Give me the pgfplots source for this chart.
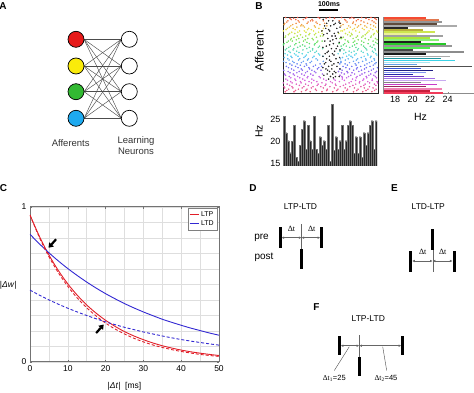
\documentclass[border=0pt]{standalone}
\usepackage{pgfplots}
\pgfplotsset{compat=1.18}
\usepackage{fontspec}
\setmainfont{Liberation Sans}
\newfontfamily\serifd{Liberation Serif}
\usetikzlibrary{arrows.meta}
\newcommand{\fs}[1]{\fontsize{#1}{#1}\selectfont}
\definecolor{cA1}{RGB}{230,25,25}
\definecolor{cA2}{RGB}{250,235,10}
\definecolor{cA3}{RGB}{50,185,50}
\definecolor{cA4}{RGB}{30,170,240}
\definecolor{ltp}{RGB}{225,30,40}
\definecolor{ltd}{RGB}{50,40,210}
% right histogram colours (1 = bottom, 38 = top)
\definecolor{h38}{RGB}{245,75,50}
\definecolor{h37}{RGB}{225,120,80}
\definecolor{h36}{RGB}{150,150,150}
\definecolor{h35}{RGB}{95,75,60}
\definecolor{h34}{RGB}{170,170,170}
\definecolor{h33}{RGB}{40,40,40}
\definecolor{h32}{RGB}{185,175,60}
\definecolor{h31}{RGB}{205,230,80}
\definecolor{h30}{RGB}{235,240,150}
\definecolor{h29}{RGB}{160,160,160}
\definecolor{h28}{RGB}{170,230,60}
\definecolor{h27}{RGB}{140,240,120}
\definecolor{h26}{RGB}{30,30,30}
\definecolor{h25}{RGB}{40,200,40}
\definecolor{h24}{RGB}{150,150,150}
\definecolor{h23}{RGB}{80,240,80}
\definecolor{h22}{RGB}{70,70,70}
\definecolor{h21}{RGB}{140,140,140}
\definecolor{h20}{RGB}{25,25,25}
\definecolor{h19}{RGB}{170,170,170}
\definecolor{h18}{RGB}{30,150,160}
\definecolor{h17}{RGB}{60,210,230}
\definecolor{h16}{RGB}{170,230,240}
\definecolor{h15}{RGB}{100,160,230}
\definecolor{h14}{RGB}{80,80,80}
\definecolor{h13}{RGB}{60,90,220}
\definecolor{h12}{RGB}{30,30,130}
\definecolor{h11}{RGB}{130,150,240}
\definecolor{h10}{RGB}{40,40,170}
\definecolor{h9}{RGB}{120,60,200}
\definecolor{h8}{RGB}{160,110,230}
\definecolor{h7}{RGB}{200,170,240}
\definecolor{h6}{RGB}{130,130,130}
\definecolor{h5}{RGB}{200,60,200}
\definecolor{h4}{RGB}{150,40,90}
\definecolor{h3}{RGB}{240,130,180}
\definecolor{h2}{RGB}{200,30,60}
\definecolor{h1}{RGB}{240,60,90}
\begin{document}
\begin{tikzpicture}
\path[use as bounding box] (0pt,0pt) rectangle (474pt,-393pt);
\begin{scope}[x=1pt,y=-1pt,every node/.style={inner sep=0pt}]
% panel letters
\node[font=\bfseries\fs{10}] at (3,6.5) {A};
\node[font=\bfseries\fs{10}] at (259,6) {B};
\node[font=\bfseries\fs{10}] at (3.5,188) {C};
\node[font=\bfseries\fs{10}] at (253,188) {D};
\node[font=\bfseries\fs{10}] at (394.5,188) {E};
\node[font=\bfseries\fs{10}] at (316.5,307) {F};
% ---- panel A ----
\foreach \ya in {39.3,66,91.7,118.3}
  \foreach \yb in {39.3,66,91.7,118.3}
    \draw[black!70, line width=0.45pt] (84,\ya) -- (121.3,\yb);
\draw[fill=cA1, line width=0.7pt] (76,39.3) circle[radius=8];
\draw[fill=cA2, line width=0.7pt] (76,66) circle[radius=8];
\draw[fill=cA3, line width=0.7pt] (76,91.7) circle[radius=8];
\draw[fill=cA4, line width=0.7pt] (76,118.3) circle[radius=8];
\foreach \yb in {39.3,66,91.7,118.3}
  \draw[fill=white, line width=0.7pt] (129.3,\yb) circle[radius=8];
\node[font=\fs{9.5}, text=black!80] at (70.7,142.7) {Afferents};
\node[font=\fs{9.5}, text=black!80, align=center] at (136,145.5) {Learning\\[1pt]Neurons};
% ---- panel B labels ----
\node[font=\bfseries\fs{7}] at (329,4) {100ms};
\draw[line width=2.5pt] (319,10) -- (338,10);
\node[font=\fs{12}, rotate=90] at (259.3,51) {Afferent};
\node[font=\fs{10.5}] at (420.5,117) {Hz};
\node[font=\fs{10.5}, rotate=90] at (259,131.5) {Hz};
% ---- panel D ----
\node[font=\fs{8.5}] at (300.5,206.7) {LTP-LTD};
\node[font=\fs{10}] at (261.5,238) {pre};
\node[font=\fs{10}] at (264,257) {post};
\draw[black!60, line width=0.4pt] (301.5,224) -- (301.5,249);
\fill (278.5,226.7) rectangle (281.5,247.7);
\fill (320.2,226.7) rectangle (323.2,247.7);
\fill (300,249) rectangle (303,269.3);
\draw[black!60, line width=0.5pt, {Latex[length=2.6pt,width=2.6pt]}-{Latex[length=2.6pt,width=2.6pt]}] (281.5,237.7) -- (301.5,237.7);
\draw[black!60, line width=0.5pt, {Latex[length=2.6pt,width=2.6pt]}-{Latex[length=2.6pt,width=2.6pt]}] (301.5,237.7) -- (320.2,237.7);
\node[font=\serifd\fs{8}] at (291.5,229) {Δt};
\node[font=\serifd\fs{8}] at (311.7,229) {Δt};
% ---- panel E ----
\node[font=\fs{8.5}] at (428.3,206.7) {LTD-LTP};
\draw[black!60, line width=0.4pt] (432.7,249) -- (432.7,272);
\fill (431.2,229.3) rectangle (434.2,250);
\fill (409.2,251) rectangle (412.2,271.7);
\fill (452.5,251) rectangle (455.5,271.7);
\draw[black!60, line width=0.5pt, {Latex[length=2.6pt,width=2.6pt]}-{Latex[length=2.6pt,width=2.6pt]}] (412.2,261) -- (432.7,261);
\draw[black!60, line width=0.5pt, {Latex[length=2.6pt,width=2.6pt]}-{Latex[length=2.6pt,width=2.6pt]}] (432.7,261) -- (452.5,261);
\node[font=\serifd\fs{8}] at (422.7,252) {Δt};
\node[font=\serifd\fs{8}] at (442.7,252) {Δt};
% ---- panel F ----
\node[font=\fs{8.5}] at (368.3,318.3) {LTP-LTD};
\draw[black!60, line width=0.4pt] (359.3,335) -- (359.3,357);
\fill (337.8,336) rectangle (340.8,355);
\fill (401.2,336) rectangle (404.2,355);
\fill (357.8,356.7) rectangle (360.8,376);
\draw[black!60, line width=0.5pt, {Latex[length=2.6pt,width=2.6pt]}-{Latex[length=2.6pt,width=2.6pt]}] (340.8,345.7) -- (359.3,345.7);
\draw[black!60, line width=0.5pt, {Latex[length=2.6pt,width=2.6pt]}-{Latex[length=2.6pt,width=2.6pt]}] (359.3,345.7) -- (401.2,345.7);
\draw[black!70, line width=0.4pt] (334.3,370.5) -- (349.3,346.7);
\draw[black!70, line width=0.4pt] (386.7,370.5) -- (382.7,346.7);
\node[font=\fs{7.5}] at (334.3,378) {{\serifd Δt\textsubscript{1}}=25};
\node[font=\fs{7.5}] at (386,378) {{\serifd Δt\textsubscript{2}}=45};
\end{scope}

% ---- panel B raster ----
\begin{axis}[at={(283pt,-93pt)}, anchor=south west, scale only axis,
  width=95pt, height=76pt, xmin=0, xmax=500, ymin=0.5, ymax=30.5,
  xtick=\empty, ytick=\empty, axis line style={line width=0.9pt, black!85},
  colormap={aff}{rgb255=(240,90,130) rgb255=(215,100,230) rgb255=(110,110,245) rgb255=(90,215,240) rgb255=(100,225,100) rgb255=(235,230,70) rgb255=(245,90,70)},
  point meta min=1, point meta max=30]
\addplot[scatter, only marks, mark=*, mark size=0.55pt, point meta=y,
  scatter/use mapped color={draw=mapped color, fill=mapped color}] coordinates {
(12,1)(58,1)(97,1)(143,1)(205,1)(262,1)(318,1)(371,1)(420,1)(468,1)
(30,2)(81,2)(126,2)(171,2)(233,2)(289,2)(340,2)(395,2)(447,2)(490,2)
(5,3)(47,3)(110,3)(158,3)(199,3)(247,3)(301,3)(352,3)(410,3)(455,3)
(22,4)(70,4)(119,4)(185,4)(226,4)(276,4)(330,4)(383,4)(432,4)(481,4)
(40,5)(92,5)(137,5)(178,5)(250,5)(297,5)(359,5)(404,5)(446,5)(495,5)
(15,6)(63,6)(104,6)(152,6)(214,6)(268,6)(312,6)(366,6)(425,6)(470,6)
(33,7)(77,7)(131,7)(190,7)(310,7)(345,7)(390,7)(438,7)(486,7)
(8,8)(54,8)(99,8)(146,8)(207,8)(322,8)(377,8)(416,8)(462,8)
(27,9)(85,9)(128,9)(166,9)(292,9)(337,9)(399,9)(451,9)(492,9)
(45,10)(96,10)(140,10)(181,10)(299,10)(350,10)(387,10)(429,10)(476,10)
(18,11)(66,11)(113,11)(160,11)(203,11)(316,11)(362,11)(409,11)(458,11)
(36,12)(74,12)(122,12)(195,12)(299,12)(327,12)(380,12)(442,12)(484,12)
(3,13)(51,13)(107,13)(150,13)(212,13)(305,13)(371,13)(419,13)(467,13)
(25,14)(88,14)(134,14)(174,14)(302,14)(343,14)(393,14)(435,14)(479,14)
(42,15)(79,15)(117,15)(163,15)(211,15)(335,15)(358,15)(427,15)(463,15)
(11,16)(60,16)(101,16)(187,16)(290,16)(319,16)(385,16)(444,16)(489,16)
(31,17)(72,17)(144,17)(176,17)(300,17)(348,17)(374,17)(412,17)(471,17)
(19,18)(57,18)(125,18)(156,18)(209,18)(310,18)(397,18)(436,18)(483,18)
(38,19)(90,19)(115,19)(192,19)(306,19)(333,19)(365,19)(424,19)(459,19)
(6,20)(68,20)(139,20)(169,20)(295,20)(325,20)(389,20)(448,20)(496,20)
(28,21)(49,21)(108,21)(183,21)(206,21)(341,21)(378,21)(414,21)(474,21)
(44,22)(83,22)(130,22)(154,22)(300,22)(308,22)(369,22)(433,22)(487,22)
(14,23)(75,23)(120,23)(197,23)(210,23)(354,23)(392,23)(421,23)(465,23)
(34,24)(62,24)(141,24)(172,24)(206,24)(293,24)(329,24)(360,24)(440,24)(480,24)
(2,25)(87,25)(112,25)(161,25)(205,25)(305,25)(314,25)(383,25)(453,25)(493,25)
(23,26)(53,26)(135,26)(189,26)(213,26)(338,26)(376,26)(418,26)(461,26)
(41,27)(94,27)(106,27)(165,27)(231,27)(305,27)(346,27)(398,27)(431,27)(477,27)
(9,28)(69,28)(127,28)(180,28)(219,28)(303,28)(367,28)(445,28)(488,28)
(26,29)(80,29)(145,29)(157,29)(212,29)(296,29)(331,29)(386,29)(411,29)(469,29)
(37,30)(56,30)(118,30)(193,30)(227,30)(271,30)(352,30)(373,30)(437,30)(484,30)
(20,1.5)(66,1.5)(120,1.5)(176,1.5)(230,1.5)(283,1.5)(336,1.5)(388,1.5)(437,1.5)(482,1.5)
(9,2.5)(52,2.5)(101,2.5)(149,2.5)(212,2.5)(270,2.5)(327,2.5)(376,2.5)(428,2.5)(474,2.5)
(35,3.5)(86,3.5)(133,3.5)(180,3.5)(222,3.5)(279,3.5)(318,3.5)(368,3.5)(425,3.5)(489,3.5)
(2,4.5)(48,4.5)(95,4.5)(150,4.5)(205,4.5)(259,4.5)(348,4.5)(402,4.5)(456,4.5)(498,4.5)
(24,5.5)(67,5.5)(115,5.5)(162,5.5)(227,5.5)(275,5.5)(323,5.5)(382,5.5)(420,5.5)(469,5.5)
(41,6.5)(88,6.5)(127,6.5)(196,6.5)(312,6.5)(335,6.5)(385,6.5)(441,6.5)(492,6.5)
(13,7.5)(60,7.5)(112,7.5)(158,7.5)(300,7.5)(357,7.5)(405,7.5)(452,7.5)(478,7.5)
(37,8.5)(73,8.5)(119,8.5)(173,8.5)(308,8.5)(341,8.5)(363,8.5)(430,8.5)(485,8.5)
(4,9.5)(57,9.5)(102,9.5)(152,9.5)(200,9.5)(311,9.5)(372,9.5)(413,9.5)(465,9.5)
(29,10.5)(79,10.5)(136,10.5)(188,10.5)(331,10.5)(391,10.5)(439,10.5)(497,10.5)
(47,11.5)(91,11.5)(125,11.5)(171,11.5)(339,11.5)(385,11.5)(430,11.5)(475,11.5)
(16,12.5)(58,12.5)(97,12.5)(143,12.5)(305,12.5)(350,12.5)(398,12.5)(455,12.5)(490,12.5)
(32,13.5)(82,13.5)(129,13.5)(182,13.5)(328,13.5)(386,13.5)(437,13.5)(482,13.5)
(7,14.5)(47,14.5)(110,14.5)(156,14.5)(313,14.5)(366,14.5)(412,14.5)(460,14.5)
(24,15.5)(68,15.5)(123,15.5)(193,15.5)(347,15.5)(378,15.5)(447,15.5)(494,15.5)
(38,16.5)(84,16.5)(132,16.5)(168,16.5)(330,16.5)(360,16.5)(422,16.5)(477,16.5)
(12,17.5)(53,17.5)(105,17.5)(156,17.5)(321,17.5)(392,17.5)(441,17.5)(486,17.5)
(30,18.5)(77,18.5)(139,18.5)(186,18.5)(351,18.5)(384,18.5)(430,18.5)(469,18.5)
(2,19.5)(62,19.5)(103,19.5)(165,19.5)(318,19.5)(377,19.5)(412,19.5)(478,19.5)
(21,20.5)(86,20.5)(126,20.5)(178,20.5)(345,20.5)(370,20.5)(425,20.5)(488,20.5)
(40,21.5)(70,21.5)(117,21.5)(159,21.5)(327,21.5)(396,21.5)(451,21.5)(495,21.5)
(11,22.5)(58,22.5)(103,22.5)(176,22.5)(317,22.5)(385,22.5)(414,22.5)(462,22.5)
(28,23.5)(92,23.5)(137,23.5)(166,23.5)(340,23.5)(363,23.5)(433,23.5)(476,23.5)
(46,24.5)(78,24.5)(121,24.5)(187,24.5)(349,24.5)(402,24.5)(446,24.5)(498,24.5)
(16,25.5)(64,25.5)(129,25.5)(149,25.5)(323,25.5)(367,25.5)(427,25.5)(473,25.5)
(33,26.5)(73,26.5)(113,26.5)(170,26.5)(354,26.5)(391,26.5)(441,26.5)(487,26.5)
(6,27.5)(51,27.5)(98,27.5)(194,27.5)(316,27.5)(381,27.5)(409,27.5)(461,27.5)
(20,28.5)(85,28.5)(132,28.5)(174,28.5)(337,28.5)(370,28.5)(426,28.5)(479,28.5)
(43,29.5)(67,29.5)(107,29.5)(153,29.5)(325,29.5)(395,29.5)(452,29.5)(491,29.5)
(14,30.3)(77,30.3)(125,30.3)(185,30.3)(246,30.3)(308,30.3)(362,30.3)(414,30.3)(463,30.3)
};
\addplot[only marks, mark=*, mark size=0.55pt, black!85] coordinates {
(240,29)(262,29)(230,28)(275,28)(251,27)(283,26)(225,26)(246,25)(270,24)(232,24)
(258,23)(280,22)(236,22)(248,21)(265,20)(228,19)(287,19)(255,18)(238,17)(272,17)
(222,16)(260,16)(244,15)(279,14)(230,14)(252,13)(268,12)(218,12)(240,11)(284,11)
(257,10)(226,10)(270,9)(245,9)(232,8)(262,8)(250,7)(276,7)
(212,29.5)(295,28.5)(268,27.5)(219,27)(300,26.5)(240,25.5)(290,24.5)(214,23.5)(275,23)(305,22.5)
(220,21)(262,21.5)(296,20.5)(245,19.5)(210,18.5)(280,18)(300,17.5)(232,16.5)(268,15.5)(210,15)
(298,14.5)(245,13.5)(225,12.5)(290,12.5)(258,11.5)(210,10.5)(300,10)(235,9.5)(278,8.5)(215,7.5)
(296,7)(265,6.5)(240,6)(300,28)(205,25)
};
\end{axis}

% ---- panel B rate histogram (right) ----
\begin{axis}[at={(383.5pt,-93.7pt)}, anchor=south west, scale only axis,
  width=90.5pt, height=76.7pt, xmin=16.66, xmax=27, ymin=0.5, ymax=38.5,
  xbar, bar width=0.85, bar shift=0pt,
  xtick={18,20,22,24}, ytick=\empty,
  axis x line*=bottom, axis y line*=left, axis line style={black!45, line width=0.5pt},
  x axis line style={-}, y axis line style={-},
  major tick length=1.5pt, tick style={black!45},
  tick label style={font=\fs{9}}, xticklabel style={yshift=1pt},
  /pgf/number format/assume math mode=true]
\addplot[fill=h38, draw=none] coordinates {(21.5,38)};
\addplot[fill=h37, draw=none] coordinates {(23.0,37)};
\addplot[fill=h36, draw=none] coordinates {(23.3,36)};
\addplot[fill=h35, draw=none] coordinates {(22.8,35)};
\addplot[fill=h34, draw=none] coordinates {(25.0,34)};
\addplot[fill=h33, draw=none] coordinates {(19.5,33)};
\addplot[fill=h32, draw=none] coordinates {(21.2,32)};
\addplot[fill=h31, draw=none] coordinates {(22.5,31)};
\addplot[fill=h30, draw=none] coordinates {(20.5,30)};
\addplot[fill=h29, draw=none] coordinates {(23.5,29)};
\addplot[fill=h28, draw=none] coordinates {(22.0,28)};
\addplot[fill=h27, draw=none] coordinates {(23.0,27)};
\addplot[fill=h26, draw=none] coordinates {(21.0,26)};
\addplot[fill=h25, draw=none] coordinates {(23.8,25)};
\addplot[fill=h24, draw=none] coordinates {(24.5,24)};
\addplot[fill=h23, draw=none] coordinates {(22.0,23)};
\addplot[fill=h22, draw=none] coordinates {(20.0,22)};
\addplot[fill=h21, draw=none] coordinates {(25.8,21)};
\addplot[fill=h20, draw=none] coordinates {(21.5,20)};
\addplot[fill=h19, draw=none] coordinates {(24.3,19)};
\addplot[fill=h18, draw=none] coordinates {(23.2,18)};
\addplot[fill=h17, draw=none] coordinates {(24.8,17)};
\addplot[fill=h16, draw=none] coordinates {(22.0,16)};
\addplot[fill=h15, draw=none] coordinates {(20.5,15)};
\addplot[fill=h14, draw=none] coordinates {(26.8,14)};
\addplot[fill=h13, draw=none] coordinates {(21.0,13)};
\addplot[fill=h12, draw=none] coordinates {(22.3,12)};
\addplot[fill=h11, draw=none] coordinates {(21.5,11)};
\addplot[fill=h10, draw=none] coordinates {(20.0,10)};
\addplot[fill=h9, draw=none] coordinates {(21.3,9)};
\addplot[fill=h8, draw=none] coordinates {(22.5,8)};
\addplot[fill=h7, draw=none] coordinates {(23.8,7)};
\addplot[fill=h6, draw=none] coordinates {(21.0,6)};
\addplot[fill=h5, draw=none] coordinates {(22.8,5)};
\addplot[fill=h4, draw=none] coordinates {(21.5,4)};
\addplot[fill=h3, draw=none] coordinates {(23.3,3)};
\addplot[fill=h2, draw=none] coordinates {(22.0,2)};
\addplot[fill=h1, draw=none] coordinates {(23.5,1)};
\end{axis}

% ---- panel B rate per time bin (bottom) ----
\begin{axis}[at={(283pt,-166pt)}, anchor=south west, scale only axis,
  width=94pt, height=63pt, xmin=0.5, xmax=47.5, ymin=14.4, ymax=28.6,
  ybar, bar width=1, bar shift=0pt,
  ytick={15,20,25}, xtick=\empty, axis line style={draw=none},
  major tick length=0pt, tick label style={font=\fs{9}},
  yticklabel style={xshift=1pt},
  /pgf/number format/assume math mode=true]
\addplot[fill=black!85, draw=black!55, line width=0.2pt] coordinates {
(1,25.6)(2,21.9)(3,20.1)(4,17.4)(5,19.9)(6,23.6)(7,16.3)(8,15.4)(9,19.1)(10,22.7)
(11,24.6)(12,18.1)(13,23.6)(14,20.1)(15,18.1)(16,25.6)(17,18.1)(18,17.2)(19,21.0)(20,19.1)
(21,20.1)(22,18.1)(23,23.6)(24,15.4)(25,28.3)(26,18.0)(27,21.0)(28,18.1)(29,20.1)(30,23.6)
(31,18.1)(32,20.1)(33,23.6)(34,24.6)(35,23.6)(36,17.2)(37,21.0)(38,17.2)(39,21.0)(40,16.3)
(41,21.9)(42,19.1)(43,21.9)(44,23.6)(45,24.6)(46,18.1)(47,24.6)};
\end{axis}

% ---- panel C ----
\begin{axis}[at={(30pt,-361.7pt)}, anchor=south west, scale only axis,
  width=189pt, height=155pt, xmin=0, xmax=50, ymin=0, ymax=1,
  xtick={0,10,...,50}, ytick={0,1},
  minor xtick={5,15,25,35,45}, minor ytick={0.1,0.2,0.3,0.4,0.5,0.6,0.7,0.8,0.9},
  grid=both, major grid style={black!13, line width=0.4pt}, minor grid style={black!13, line width=0.4pt},
  axis line style={black!55, line width=0.5pt},
  tick align=inside, major tick length=2pt, minor tick length=0pt, tick style={black!55},
  tick label style={font=\fs{8.5}},
  xlabel={|\textit{Δt}|\ \ [ms]}, ylabel={|\textit{Δw}|},
  label style={font=\fs{8.5}},
  xlabel style={at={(axis description cs:0.5,-0.161)}, anchor=center},
  ylabel style={at={(axis description cs:-0.115,0.495)}, anchor=center, rotate=-90},
  legend style={at={(0.99,0.99)}, anchor=north east, font=\fs{7}, draw=black!50,
    inner sep=1.2pt, row sep=-1.5pt, cells={anchor=west}},
  legend image code/.code={\draw[#1] (0pt,0pt) -- (9pt,0pt);},
  /pgf/number format/assume math mode=true]
\addplot[ltp, line width=0.9pt, smooth] coordinates {
(0,0.946)(2.5,0.808)(5,0.689)(7.5,0.588)(10,0.502)(12.5,0.429)(15,0.366)(17.5,0.313)
(20,0.267)(22.5,0.228)(25,0.194)(27.5,0.166)(30,0.142)(32.5,0.121)(35,0.103)(37.5,0.088)
(40,0.075)(42.5,0.064)(45,0.055)(47.5,0.047)(50,0.040)};
\addlegendentry{LTP}
\addplot[ltd, line width=0.9pt, smooth] coordinates {
(0,0.822)(2.5,0.760)(5,0.703)(7.5,0.650)(10,0.601)(12.5,0.556)(15,0.514)(17.5,0.475)
(20,0.439)(22.5,0.406)(25,0.375)(27.5,0.347)(30,0.321)(32.5,0.297)(35,0.274)(37.5,0.254)
(40,0.235)(42.5,0.217)(45,0.201)(47.5,0.185)(50,0.171)};
\addlegendentry{LTD}
\addplot[ltp, line width=0.9pt, densely dashed, smooth, forget plot] coordinates {
(0,0.946)(2.5,0.801)(5,0.678)(7.5,0.574)(10,0.486)(12.5,0.411)(15,0.348)(17.5,0.295)
(20,0.249)(22.5,0.211)(25,0.179)(27.5,0.151)(30,0.128)(32.5,0.108)(35,0.092)(37.5,0.078)
(40,0.066)(42.5,0.056)(45,0.047)(47.5,0.040)(50,0.034)};
\addplot[ltd, line width=0.9pt, densely dashed, smooth, forget plot] coordinates {
(0,0.462)(2.5,0.429)(5,0.399)(7.5,0.371)(10,0.345)(12.5,0.321)(15,0.298)(17.5,0.277)
(20,0.257)(22.5,0.239)(25,0.222)(27.5,0.207)(30,0.192)(32.5,0.179)(35,0.166)(37.5,0.154)
(40,0.143)(42.5,0.133)(45,0.124)(47.5,0.115)(50,0.107)};
\draw[-{Triangle[length=4.5pt,width=6pt]}, line width=2.2pt] (axis cs:6.9,0.79) -- (axis cs:4.9,0.735);
\draw[-{Triangle[length=4.5pt,width=6pt]}, line width=2.2pt] (axis cs:17.5,0.185) -- (axis cs:19.5,0.24);
\end{axis}
\end{tikzpicture}
\end{document}
